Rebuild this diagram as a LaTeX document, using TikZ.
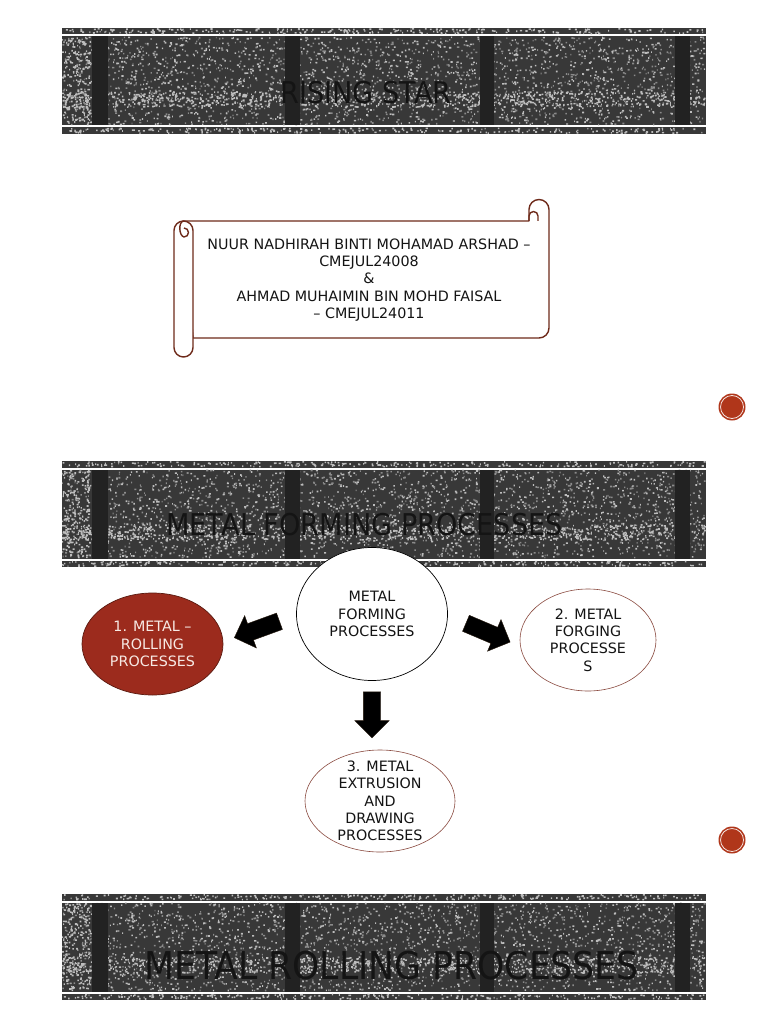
\documentclass[tikz,border=0pt]{standalone}
\usepackage{fontspec}
\setmainfont{DejaVu Sans}
\newfontfamily\titlefont[FakeStretch=0.905]{DejaVu Sans}
\usetikzlibrary{shapes.arrows,shapes.geometric}
\definecolor{bandbase}{HTML}{383838}
\definecolor{banddark}{HTML}{222222}
\definecolor{speck}{HTML}{BDBDBD}
\definecolor{speckmid}{HTML}{8A8A8A}
\definecolor{scrollbrown}{HTML}{6E2A1A}
\definecolor{rustred}{HTML}{9C2B1D}
\definecolor{rustedge}{HTML}{5A1A10}
\definecolor{thinbrown}{HTML}{8A4A40}
\definecolor{dotred}{HTML}{B0361A}
\definecolor{paletext}{HTML}{F7E9E4}
\tikzset{
  bodytext/.style={font=\fontsize{14.3}{17.3}\selectfont, text=black!92, align=center, inner sep=0pt},
  titletext/.style={font=\titlefont\fontsize{30}{30}\selectfont, text=black!92, inner sep=0pt},
  scrollline/.style={draw=scrollbrown, line width=1.4pt, line join=round},
  procell/.style={ellipse, draw=thinbrown, line width=0.6pt, fill=white, inner sep=0pt},
  blockarrow/.style={single arrow, fill=black, draw=black!80!brown, line width=0.4pt,
     inner sep=8.5pt, single arrow head extend=8.5pt, single arrow head indent=0pt},
  reddot/.style={circle, fill=dotred, inner sep=0pt, minimum size=27pt}
}
% specks in a region: x1 y1(top) width height count colour -- one path
\newcommand{\specks}[6]{%
  \fill[#6] \foreach \i in {1,...,#5} {
    ({#1+(#3-2)*rnd},{#2-(#4-1.6)*rnd}) rectangle ++({0.8+1.4*rnd},-1.6)
  };
}
\newcommand{\mybanner}[1]{%
  \begin{scope}[yshift=-#1pt]
    \fill[bandbase] (62,0) rectangle (706,-6.5);
    \fill[bandbase] (62,-8.5) rectangle (706,-97.5);
    \fill[bandbase] (62,-99.5) rectangle (706,-106);
    \specks{62}{0}{644}{6.5}{260}{speck}
    \specks{62}{-99.5}{644}{6.5}{260}{speck}
    \specks{62}{-8.5}{644}{89}{1350}{speckmid}
    \specks{62}{-8.5}{644}{89}{1300}{speck}
    \specks{62}{-63}{644}{17}{900}{speck}
    \specks{62}{-8.5}{30}{89}{200}{speck}
    \foreach \bx/\bw in {92/16,285/15,480/14,675/15} {
      \fill[banddark] (\bx,-8.5) rectangle ++(\bw,-89);
    }
  \end{scope}
}
\begin{document}
\begin{tikzpicture}[x=1pt,y=1pt]
\pgfmathsetseed{7}
\useasboundingbox (0,0) rectangle (768,-1024);
\fill[white] (0,0) rectangle (768,-1024);

% ---------- banner 1 ----------
\mybanner{28}
\node[titletext] (title1) at (366,-93) {RISING STAR};

% ---------- scroll ----------
\draw[scrollline, fill=white] (183.5,-221) -- (529,-221) -- (529,-209.5)
   arc[start angle=180,end angle=0,radius=10] -- (549,-328)
   arc[start angle=0,end angle=-90,radius=10] -- (193,-338) -- cycle;
\draw[scrollline, fill=white] (174,-230.5) arc[start angle=180,end angle=0,radius=9.5]
   -- (193,-347.5) arc[start angle=0,end angle=-180,radius=9.5] -- cycle;
\draw[scrollline] (183.5,-221) .. controls (178,-222) and (179,-236) .. (184,-237)
   arc[start angle=-90,end angle=90,radius=4.5];
\draw[scrollline] (529,-221) -- (529,-216) arc[start angle=180,end angle=0,radius=4.5]
   -- (538,-221);
\node[bodytext] (names) at (369,-280) {NUUR NADHIRAH BINTI MOHAMAD ARSHAD –\\CMEJUL24008\\\&\\AHMAD MUHAIMIN BIN MOHD FAISAL\\– CMEJUL24011};

% ---------- red dots ----------
\node[reddot] (dot1) at (732,-407) {};
\draw[white!85!dotred, line width=0.8pt] (dot1.center) circle[radius=11.5pt];
\node[reddot] (dot2) at (732,-840) {};
\draw[white!85!dotred, line width=0.8pt] (dot2.center) circle[radius=11.5pt];

% ---------- banner 2 ----------
\mybanner{461}
\node[titletext] (title2) at (364.5,-525) {METAL FORMING PROCESSES};

% ---------- diagram ----------
\node[ellipse, draw=black, line width=0.7pt, fill=white, minimum width=151pt, minimum height=133pt, inner sep=0pt] (center) at (372,-614) {};
\node[bodytext] at (center.center) {METAL\\FORMING\\PROCESSES};

\node[ellipse, draw=rustedge, line width=0.7pt, fill=rustred, minimum width=141pt, minimum height=102pt, inner sep=0pt] (rolling) at (152.5,-644) {};
\node[bodytext, text=paletext] at (rolling.center) {1. METAL –\\ROLLING\\PROCESSES};

\node[procell, minimum width=136pt, minimum height=102pt] (forging) at (588,-640) {};
\node[bodytext] at (forging.center) {2. METAL\\FORGING\\PROCESSE\\S};

\node[procell, minimum width=150pt, minimum height=102pt] (extrusion) at (380,-801) {};
\node[bodytext] at (extrusion.center) {3. METAL\\EXTRUSION\\AND\\DRAWING\\PROCESSES};

\node[blockarrow, minimum height=48pt, rotate=200] (arrL) at (261,-628) {};
\node[blockarrow, minimum height=48pt, rotate=-23] (arrR) at (484,-631) {};
\node[blockarrow, minimum height=46pt, rotate=-90] (arrD) at (372,-710.5) {};

% ---------- banner 3 ----------
\mybanner{894}
\node[titletext, font=\titlefont\fontsize{38.3}{38.3}\selectfont] (title3) at (391.5,-966) {METAL ROLLING PROCESSES};
\end{tikzpicture}
\end{document}
